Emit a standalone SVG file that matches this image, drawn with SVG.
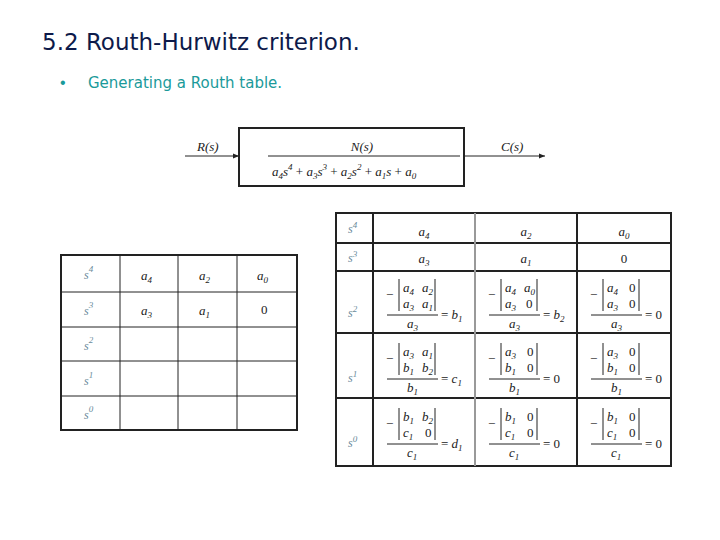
<svg xmlns="http://www.w3.org/2000/svg" width="720" height="540" viewBox="0 0 720 540">
<defs>
<marker id="ar" viewBox="0 0 10 10" refX="10" refY="5" markerWidth="8" markerHeight="6" orient="auto"><path d="M0,1 L10,5 L0,9 z" fill="#222"/></marker>
<style>
.m{font-family:"Liberation Serif",serif;font-style:italic;font-size:13px;fill:#222}
.n{font-family:"Liberation Serif",serif;font-size:13px;fill:#222}
.s{font-size:9px}
.lb{font-family:"Liberation Serif",serif;font-style:italic;font-size:12px;fill:#6a8a9a}
.g{stroke:#222;stroke-width:2;fill:none}
.t{stroke:#222;stroke-width:1;fill:none}
.c{stroke:#999;stroke-width:2}
</style>
</defs>
<rect width="720" height="540" fill="#fff"/>
<text x="42" y="50" font-family="DejaVu Sans,sans-serif" font-size="23" fill="#0d1a4a">5.2 Routh-Hurwitz criterion.</text>
<text x="60" y="88" font-family="Liberation Sans,sans-serif" font-size="16" fill="#1a9a9a">•</text>
<text x="88" y="88" font-family="DejaVu Sans,sans-serif" font-size="15" fill="#1a9a9a">Generating a Routh table.</text>

<g id="connectors">
<line x1="185" y1="156" x2="239" y2="156" class="t" marker-end="url(#ar)"/>
<line x1="464" y1="156" x2="545" y2="156" class="t" marker-end="url(#ar)"/>
</g>
<g id="block">
<rect x="239" y="128" width="225" height="58" class="g"/>
<text x="197" y="151" class="m" font-size="15">R(s)</text>
<text x="501" y="151" class="m" font-size="15">C(s)</text>
<text x="362" y="151" class="m" font-size="15" text-anchor="middle">N(s)</text>
<line x1="268" y1="156" x2="460" y2="156" class="t"/>
<text x="272" y="176" class="m" font-size="14">a<tspan class="s" dy="3">4</tspan><tspan dy="-3">s</tspan><tspan class="s" dy="-6">4</tspan><tspan dy="6" font-style="normal"> + </tspan>a<tspan class="s" dy="3">3</tspan><tspan dy="-3">s</tspan><tspan class="s" dy="-6">3</tspan><tspan dy="6" font-style="normal"> + </tspan>a<tspan class="s" dy="3">2</tspan><tspan dy="-3">s</tspan><tspan class="s" dy="-6">2</tspan><tspan dy="6" font-style="normal"> + </tspan>a<tspan class="s" dy="3">1</tspan><tspan dy="-3">s</tspan><tspan font-style="normal"> + </tspan>a<tspan class="s" dy="3">0</tspan></text>
</g>

<g id="left-table">
<rect x="61" y="255" width="236" height="175" class="g"/>
<path d="M120,255V430M178,255V430M237,255V430M61,292H297M61,327H297M61,361H297M61,396H297" class="t"/>
<g class="lb" font-size="15">
<text x="84" y="279">s<tspan class="s" font-size="10" dy="-7">4</tspan></text>
<text x="84" y="315">s<tspan class="s" font-size="10" dy="-7">3</tspan></text>
<text x="84" y="350">s<tspan class="s" font-size="10" dy="-7">2</tspan></text>
<text x="84" y="385">s<tspan class="s" font-size="10" dy="-7">1</tspan></text>
<text x="84" y="419">s<tspan class="s" font-size="10" dy="-7">0</tspan></text>
</g>
<g class="m" font-size="16">
<text x="141" y="280">a<tspan class="s" font-size="11" dy="3">4</tspan></text>
<text x="199" y="280">a<tspan class="s" font-size="11" dy="3">2</tspan></text>
<text x="257" y="280">a<tspan class="s" font-size="11" dy="3">0</tspan></text>
<text x="141" y="315">a<tspan class="s" font-size="11" dy="3">3</tspan></text>
<text x="199" y="315">a<tspan class="s" font-size="11" dy="3">1</tspan></text>
<text x="261" y="314" font-style="normal">0</text>
</g>
</g>

<g id="right-table">
<rect x="336" y="213" width="335" height="253" class="g"/>
<path d="M373,213V466M577,213V466M336,243H671M336,271H671M336,333H671M336,398H671" class="g" stroke-width="1.5"/>
<line x1="475" y1="213" x2="475" y2="466" class="c"/>
<g class="lb">
<text x="348" y="233">s<tspan class="s" dy="-5">4</tspan></text>
<text x="348" y="262">s<tspan class="s" dy="-5">3</tspan></text>
<text x="348" y="317">s<tspan class="s" dy="-5">2</tspan></text>
<text x="348" y="382">s<tspan class="s" dy="-5">1</tspan></text>
<text x="348" y="447">s<tspan class="s" dy="-5">0</tspan></text>
</g>
<g class="m" text-anchor="middle">
<text x="424" y="236">a<tspan class="s" dy="3">4</tspan></text>
<text x="526" y="236">a<tspan class="s" dy="3">2</tspan></text>
<text x="624" y="236">a<tspan class="s" dy="3">0</tspan></text>
<text x="424" y="263">a<tspan class="s" dy="3">3</tspan></text>
<text x="526" y="263">a<tspan class="s" dy="3">1</tspan></text>
<text x="624" y="263" font-style="normal">0</text>
</g>
</g>

<g id="det-s2-1" transform="translate(373,270)">
<text x="13" y="29" class="n">−</text><path d="M26,9V41M62,9V41M14,45H65" class="t"/>
<text x="30" y="22" class="m">a<tspan class="s" dy="3">4</tspan></text><text x="49" y="22" class="m">a<tspan class="s" dy="3">2</tspan></text>
<text x="30" y="38" class="m">a<tspan class="s" dy="3">3</tspan></text><text x="49" y="38" class="m">a<tspan class="s" dy="3">1</tspan></text>
<text x="34" y="58" class="m">a<tspan class="s" dy="3">3</tspan></text>
<text x="68" y="49" class="m"><tspan font-style="normal">= </tspan>b<tspan class="s" dy="3">1</tspan></text>
</g>
<g id="det-s2-2" transform="translate(475,270)">
<text x="13" y="29" class="n">−</text><path d="M26,9V41M62,9V41M14,45H65" class="t"/>
<text x="30" y="22" class="m">a<tspan class="s" dy="3">4</tspan></text><text x="49" y="22" class="m">a<tspan class="s" dy="3">0</tspan></text>
<text x="30" y="38" class="m">a<tspan class="s" dy="3">3</tspan></text><text x="51" y="38" class="n">0</text>
<text x="34" y="58" class="m">a<tspan class="s" dy="3">3</tspan></text>
<text x="68" y="49" class="m"><tspan font-style="normal">= </tspan>b<tspan class="s" dy="3">2</tspan></text>
</g>
<g id="det-s2-3" transform="translate(577,270)">
<text x="13" y="29" class="n">−</text><path d="M26,9V41M62,9V41M14,45H65" class="t"/>
<text x="30" y="22" class="m">a<tspan class="s" dy="3">4</tspan></text><text x="52" y="22" class="n">0</text>
<text x="30" y="38" class="m">a<tspan class="s" dy="3">3</tspan></text><text x="52" y="38" class="n">0</text>
<text x="34" y="58" class="m">a<tspan class="s" dy="3">3</tspan></text>
<text x="68" y="49" class="n">= 0</text>
</g>

<g id="det-s1-1" transform="translate(373,334)">
<text x="13" y="29" class="n">−</text><path d="M26,9V41M62,9V41M14,45H65" class="t"/>
<text x="30" y="22" class="m">a<tspan class="s" dy="3">3</tspan></text><text x="49" y="22" class="m">a<tspan class="s" dy="3">1</tspan></text>
<text x="30" y="38" class="m">b<tspan class="s" dy="3">1</tspan></text><text x="49" y="38" class="m">b<tspan class="s" dy="3">2</tspan></text>
<text x="34" y="58" class="m">b<tspan class="s" dy="3">1</tspan></text>
<text x="68" y="49" class="m"><tspan font-style="normal">= </tspan>c<tspan class="s" dy="3">1</tspan></text>
</g>
<g id="det-s1-2" transform="translate(475,334)">
<text x="13" y="29" class="n">−</text><path d="M26,9V41M62,9V41M14,45H65" class="t"/>
<text x="30" y="22" class="m">a<tspan class="s" dy="3">3</tspan></text><text x="52" y="22" class="n">0</text>
<text x="30" y="38" class="m">b<tspan class="s" dy="3">1</tspan></text><text x="52" y="38" class="n">0</text>
<text x="34" y="58" class="m">b<tspan class="s" dy="3">1</tspan></text>
<text x="68" y="49" class="n">= 0</text>
</g>
<g id="det-s1-3" transform="translate(577,334)">
<text x="13" y="29" class="n">−</text><path d="M26,9V41M62,9V41M14,45H65" class="t"/>
<text x="30" y="22" class="m">a<tspan class="s" dy="3">3</tspan></text><text x="52" y="22" class="n">0</text>
<text x="30" y="38" class="m">b<tspan class="s" dy="3">1</tspan></text><text x="52" y="38" class="n">0</text>
<text x="34" y="58" class="m">b<tspan class="s" dy="3">1</tspan></text>
<text x="68" y="49" class="n">= 0</text>
</g>

<g id="det-s0-1" transform="translate(373,399)">
<text x="13" y="29" class="n">−</text><path d="M26,9V41M62,9V41M14,45H65" class="t"/>
<text x="30" y="22" class="m">b<tspan class="s" dy="3">1</tspan></text><text x="49" y="22" class="m">b<tspan class="s" dy="3">2</tspan></text>
<text x="30" y="38" class="m">c<tspan class="s" dy="3">1</tspan></text><text x="52" y="38" class="n">0</text>
<text x="34" y="58" class="m">c<tspan class="s" dy="3">1</tspan></text>
<text x="68" y="49" class="m"><tspan font-style="normal">= </tspan>d<tspan class="s" dy="3">1</tspan></text>
</g>
<g id="det-s0-2" transform="translate(475,399)">
<text x="13" y="29" class="n">−</text><path d="M26,9V41M62,9V41M14,45H65" class="t"/>
<text x="30" y="22" class="m">b<tspan class="s" dy="3">1</tspan></text><text x="52" y="22" class="n">0</text>
<text x="30" y="38" class="m">c<tspan class="s" dy="3">1</tspan></text><text x="52" y="38" class="n">0</text>
<text x="34" y="58" class="m">c<tspan class="s" dy="3">1</tspan></text>
<text x="68" y="49" class="n">= 0</text>
</g>
<g id="det-s0-3" transform="translate(577,399)">
<text x="13" y="29" class="n">−</text><path d="M26,9V41M62,9V41M14,45H65" class="t"/>
<text x="30" y="22" class="m">b<tspan class="s" dy="3">1</tspan></text><text x="52" y="22" class="n">0</text>
<text x="30" y="38" class="m">c<tspan class="s" dy="3">1</tspan></text><text x="52" y="38" class="n">0</text>
<text x="34" y="58" class="m">c<tspan class="s" dy="3">1</tspan></text>
<text x="68" y="49" class="n">= 0</text>
</g>
</svg>
